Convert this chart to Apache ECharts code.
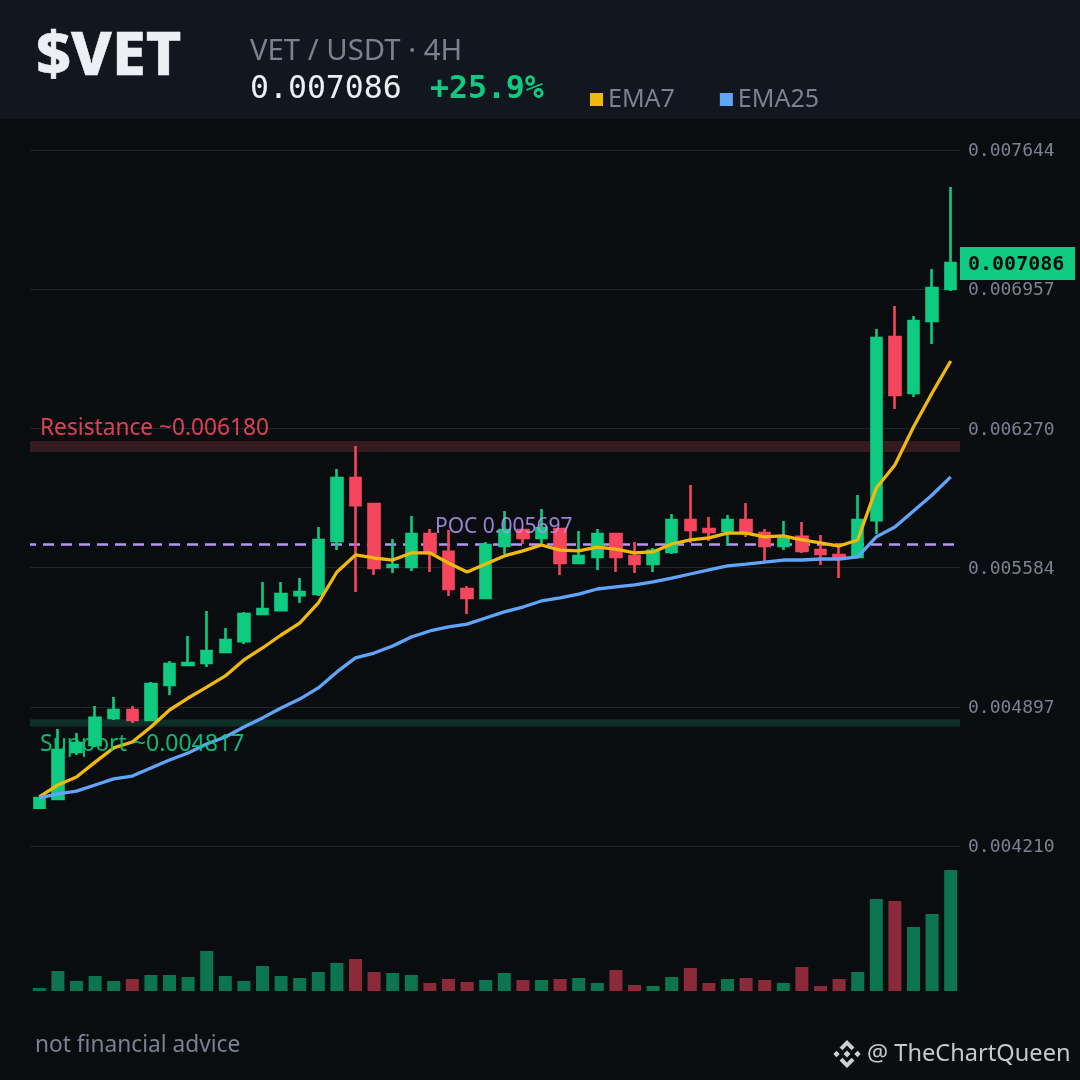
<!DOCTYPE html>
<html><head><meta charset="utf-8">
<style>html,body{margin:0;padding:0;background:#0a0d10}#c{width:1080px;height:1080px}</style>
<script src="https://cdn.jsdelivr.net/npm/echarts@6/dist/echarts.min.js"></script>
</head><body><div id="c"></div>
<script>
const opens=[0.004399,0.004442,0.004674,0.004708,0.004842,0.004881,0.004832,0.005004,0.005103,0.005113,0.005167,0.005221,0.005355,0.005374,0.005448,0.005453,0.005715,0.006026,0.005897,0.005587,0.005587,0.005749,0.005661,0.005478,0.005434,0.005690,0.005769,0.005730,0.005774,0.005606,0.005636,0.005749,0.005641,0.005601,0.005661,0.005818,0.005774,0.005764,0.005818,0.005754,0.005690,0.005735,0.005670,0.005646,0.005636,0.005818,0.006721,0.006445,0.006800,0.006958];
const closes=[0.004447,0.004684,0.004718,0.004842,0.004881,0.004832,0.005009,0.005108,0.005113,0.005172,0.005226,0.005355,0.005379,0.005453,0.005463,0.005720,0.006026,0.005892,0.005582,0.005596,0.005749,0.005656,0.005478,0.005434,0.005695,0.005769,0.005730,0.005779,0.005606,0.005641,0.005749,0.005636,0.005601,0.005666,0.005818,0.005769,0.005759,0.005818,0.005754,0.005690,0.005730,0.005666,0.005651,0.005636,0.005818,0.006716,0.006435,0.006800,0.006963,0.007086];
const lows=[0.004392,0.004442,0.004659,0.004698,0.004832,0.004817,0.004832,0.004955,0.005098,0.005093,0.005167,0.005207,0.005350,0.005369,0.005409,0.005443,0.005670,0.005463,0.005547,0.005557,0.005567,0.005562,0.005443,0.005355,0.005429,0.005651,0.005700,0.005695,0.005547,0.005601,0.005572,0.005562,0.005557,0.005562,0.005651,0.005705,0.005715,0.005690,0.005735,0.005616,0.005670,0.005656,0.005596,0.005532,0.005636,0.005749,0.006366,0.006425,0.006687,0.006948];
const highs=[0.004447,0.004787,0.004768,0.004901,0.004945,0.004901,0.005019,0.005123,0.005246,0.005369,0.005286,0.005365,0.005513,0.005513,0.005532,0.005784,0.006070,0.006184,0.005902,0.005725,0.005838,0.005774,0.005769,0.005493,0.005710,0.005863,0.005774,0.005873,0.005779,0.005764,0.005774,0.005749,0.005710,0.005680,0.005848,0.005991,0.005833,0.005843,0.005902,0.005774,0.005814,0.005809,0.005744,0.005705,0.005942,0.006761,0.006874,0.006825,0.007057,0.007461];
const ema7=[0.004452,0.004511,0.004550,0.004624,0.004694,0.004723,0.004797,0.004881,0.004940,0.004994,0.005049,0.005128,0.005187,0.005251,0.005310,0.005409,0.005562,0.005646,0.005631,0.005621,0.005656,0.005656,0.005606,0.005562,0.005601,0.005641,0.005666,0.005695,0.005670,0.005666,0.005685,0.005675,0.005656,0.005661,0.005700,0.005720,0.005730,0.005754,0.005754,0.005735,0.005740,0.005720,0.005705,0.005690,0.005720,0.005976,0.006090,0.006277,0.006445,0.006603];
const ema25=[0.004447,0.004467,0.004481,0.004511,0.004541,0.004555,0.004595,0.004634,0.004669,0.004713,0.004748,0.004797,0.004842,0.004891,0.004935,0.004990,0.005069,0.005138,0.005162,0.005197,0.005241,0.005271,0.005291,0.005305,0.005335,0.005365,0.005389,0.005419,0.005434,0.005453,0.005478,0.005488,0.005498,0.005513,0.005532,0.005552,0.005572,0.005592,0.005601,0.005611,0.005621,0.005621,0.005626,0.005626,0.005636,0.005735,0.005784,0.005863,0.005942,0.006031];
const volumes=[3,20,10,15,10,12,16,16,14,40,15,10,25,15,13,19,28,32,19,18,16,8,12,9,11,18,11,11,12,13,8,21,6,5,14,23,8,12,13,11,8,24,5,12,19,92,90,64,77,121];
const priceTicks=[0.00421,0.004897,0.005584,0.00627,0.006957,0.007644];
const resistanceBand=[0.006154,0.006208], supportBand=[0.004799,0.004835];
const pocLevel=0.005697;
const lastPrice='0.007086';
const categories=opens.map((_,i)=>'C'+(i+1));

const UP='#0ecb81',DOWN='#f6465d',SANS='"Noto Sans"',MONO='"DejaVu Sans Mono"',MUTED='#7a8190';
const chart=echarts.init(document.getElementById('c'),null,{renderer:'canvas'});
const txt=(x,y,text,font,size,fill,extra)=>({type:'text',z:50,silent:true,style:Object.assign({x,y,text,fontFamily:font,fontSize:size,fill,verticalAlign:'middle'},extra||{})});
const poly=(pts)=>({type:'polygon',z:50,silent:true,shape:{points:pts},style:{fill:'#cfcfcf'}});
const lc=[847,1054];
const rel=a=>a.map(p=>[lc[0]+p[0],lc[1]+p[1]]);
chart.setOption({
 animation:false,backgroundColor:'#0a0d10',
 legend:{left:585,top:82,itemGap:45,itemWidth:13,itemHeight:13,icon:'rect',selectedMode:false,
  data:['EMA7','EMA25'],textStyle:{color:MUTED,fontFamily:SANS,fontSize:25}},
 grid:[{left:30,top:150,width:930,height:696},{left:30,top:870,width:930,height:121}],
 xAxis:[{type:'category',data:categories,gridIndex:0,show:false,boundaryGap:true},
        {type:'category',data:categories,gridIndex:1,show:false,boundaryGap:true}],
 yAxis:[{type:'value',gridIndex:0,position:'right',min:priceTicks[0],max:priceTicks[5],scale:true,
   axisLine:{show:false},axisTick:{show:false,customValues:priceTicks},
   axisLabel:{customValues:priceTicks,formatter:v=>v.toFixed(6),color:MUTED,fontFamily:MONO,fontSize:18,margin:8,verticalAlign:'top',lineHeight:3},
   splitLine:{show:true,lineStyle:{color:'#212529',width:1}}},
  {type:'value',gridIndex:1,min:0,max:121,show:false,splitLine:{show:false}}],
 series:[
  {name:'POC',type:'custom',xAxisIndex:0,yAxisIndex:0,z:1,silent:true,clip:false,
   data:[[0,pocLevel]],encode:{x:0,y:1},
   renderItem:(params,api)=>{
     const y=api.coord([0,api.value(1)])[1], cs=params.coordSys;
     return {type:'line',shape:{x1:cs.x,y1:y,x2:cs.x+cs.width,y2:y},
       style:{stroke:'#b794f6',lineWidth:2.5,lineDash:[11,7],lineDashOffset:5,fill:null}};
   }},
  {name:'Price',type:'candlestick',xAxisIndex:0,yAxisIndex:0,z:2,barWidth:11,
   data:opens.map((o,i)=>[o,closes[i],lows[i],highs[i]]),
   itemStyle:{color:UP,color0:DOWN,borderColor:UP,borderColor0:DOWN,borderWidth:2.6},
   markArea:{silent:true,z:1,itemStyle:{opacity:1},label:{show:false},data:[
     [{yAxis:resistanceBand[1],itemStyle:{color:'#351a20'}},{yAxis:resistanceBand[0]}],
     [{yAxis:supportBand[1],itemStyle:{color:'#0f2e27'}},{yAxis:supportBand[0]}]]}},
  {name:'EMA7',type:'line',xAxisIndex:0,yAxisIndex:0,z:3,data:ema7,showSymbol:false,symbol:'none',lineStyle:{color:'#f0b90b',width:3.3},itemStyle:{color:'#f0b90b'}},
  {name:'EMA25',type:'line',xAxisIndex:0,yAxisIndex:0,z:3,data:ema25,showSymbol:false,symbol:'none',lineStyle:{color:'#60a5fa',width:3.3},itemStyle:{color:'#60a5fa'}},
  {name:'Volume',type:'bar',xAxisIndex:1,yAxisIndex:1,barWidth:13,data:volumes,
   itemStyle:{opacity:.55,color:p=>closes[p.dataIndex]>=opens[p.dataIndex]?UP:DOWN}}
 ],
 graphic:[
  {type:'rect',z:-1,silent:true,shape:{x:0,y:0,width:1080,height:119},style:{fill:'#12161e'}},
  txt(36,58,'$VET',SANS,61,'#eceff4',{fontWeight:800,stroke:'#eceff4',lineWidth:.5}),
  txt(250,52,'VET / USDT · 4H',SANS,29.3,MUTED),
  txt(250,90,lastPrice,MONO,31.5,'#eceff4'),
  txt(430,90,'+25.9%',MONO,31.5,UP,{fontWeight:'bold'}),
  txt(40,429,'Resistance ~0.006180',SANS,22.7,'rgba(246,70,93,.9)'),
  txt(40,744,'Support ~0.004817',SANS,23,'rgba(14,203,129,.9)'),
  txt(435,527,'POC 0.005697',SANS,21,'rgba(183,148,246,.85)'),
  {type:'rect',z:50,silent:true,shape:{x:960,y:247,width:115,height:33},style:{fill:UP}},
  txt(968,264.5,lastPrice,MONO,20,'#0a0d10',{fontWeight:'bold'}),
  txt(35,1046,'not financial advice',SANS,22.7,MUTED),
  txt(867,1054,'@ TheChartQueen',SANS,23.6,'#c8c8c8'),
  poly(rel([[0,-14],[7.5,-6.5],[4.5,-3.8],[0,-8.5],[-4.5,-3.8],[-7.5,-6.5]])),
  poly(rel([[0,14],[7.5,6.5],[4.5,3.8],[0,8.5],[-4.5,3.8],[-7.5,6.5]])),
  poly(rel([[0,-3.5],[3.5,0],[0,3.5],[-3.5,0]])),
  poly(rel([[-10.5,-3.2],[-7.3,0],[-10.5,3.2],[-13.7,0]])),
  poly(rel([[10.5,-3.2],[13.7,0],[10.5,3.2],[7.3,0]]))
 ]
});
</script></body></html>
